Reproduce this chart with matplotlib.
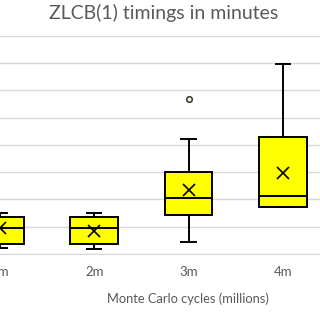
import numpy as np
import matplotlib
matplotlib.use("Agg")
from matplotlib import pyplot as plt

plt.rcParams['font.family'] = ['Lato', 'DejaVu Sans']

# Box statistics (one gridline = 1 unit)
categories = ['1m', '2m', '3m', '4m']
whisker_lo = [0.22, 0.18, 0.44, 1.72]
q1 = [0.37, 0.37, 1.43, 1.72]
median = [0.95, 0.95, 2.05, 2.12]
q3 = [1.36, 1.36, 3.00, 4.29]
whisker_hi = [1.50, 1.50, 4.21, 6.96]
mean = [0.95, 0.84, 2.34, 2.97]
outliers = [[], [], [5.68], []]

stats = []
for i in range(len(categories)):
    stats.append({
        'label': categories[i],
        'whislo': whisker_lo[i], 'q1': q1[i], 'med': median[i],
        'q3': q3[i], 'whishi': whisker_hi[i], 'mean': mean[i],
        'fliers': outliers[i],
    })

fig = plt.figure(figsize=(3.2, 3.2), dpi=100)
# the reference is a crop of a larger chart: axes run off the left/right edges
ax = fig.add_axes([0, (320 - 254) / 320, 1, 254 / 320])

positions = np.arange(1, len(categories) + 1)
ax.bxp(stats, positions=positions, widths=0.505, capwidths=0.15,
       showmeans=True, patch_artist=True,
       boxprops=dict(facecolor='#FFFF00', edgecolor='black', linewidth=1.4),
       medianprops=dict(color='black', linewidth=1.4),
       whiskerprops=dict(color='black', linewidth=1.4),
       capprops=dict(color='black', linewidth=1.4),
       meanprops=dict(marker='x', markeredgecolor='black', markersize=8,
                      markeredgewidth=1.2),
       flierprops=dict(marker='o', markerfacecolor='#FFFFCC',
                       markeredgecolor='#404040', markersize=4,
                       markeredgewidth=1.2),
       zorder=3)

ax.set_xlim(1.026, 4.395)
ax.set_ylim(0, 254 / 27.3)
ax.set_yticks(np.arange(0, 9))
ax.yaxis.grid(True, color='#D9D9D9', linewidth=1)
ax.set_axisbelow(True)
ax.tick_params(axis='y', left=False, labelleft=False)
ax.tick_params(axis='x', length=0, pad=9, labelsize=9.5, labelcolor='#595959')
ax.set_xticks(positions)
ax.set_xticklabels(categories)
for s in ['top', 'left', 'right']:
    ax.spines[s].set_visible(False)
ax.spines['bottom'].set_color('#D9D9D9')

fig.text(164 / 320, 1 - 13 / 320, 'ZLCB(1) timings in minutes',
         ha='center', va='center', fontsize=14, color='#595959')
fig.text(188 / 320, 1 - 299 / 320, 'Monte Carlo cycles (millions)',
         ha='center', va='center', fontsize=9.3, color='#595959')

fig.savefig('out.png', dpi=100)
